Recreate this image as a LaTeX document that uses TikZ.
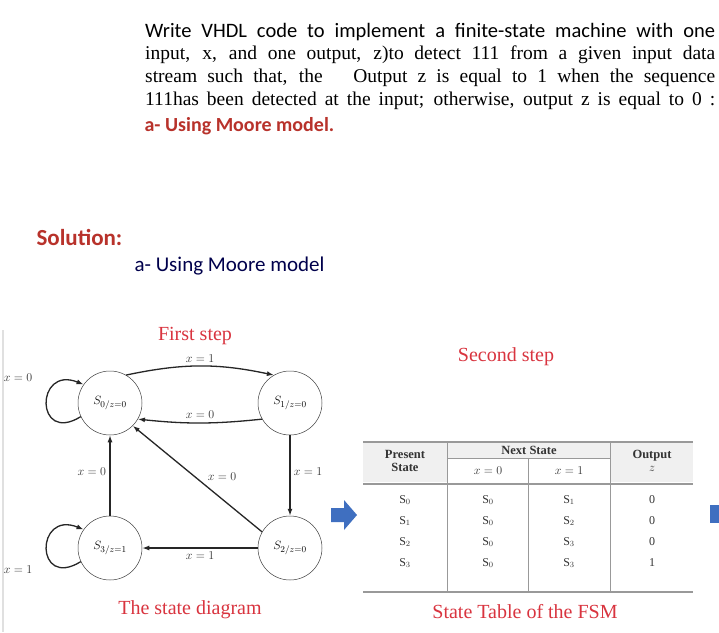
\documentclass[tikz,border=0pt]{standalone}
\usepackage{fontspec}
\setmainfont{Liberation Serif}
\newfontfamily\carfont{Carlito}
\usetikzlibrary{arrows.meta}
\definecolor{redt}{HTML}{D9343F}
\definecolor{solred}{HTML}{B8322B}
\definecolor{blu}{HTML}{3F6FC0}
\begin{document}
\begin{tikzpicture}[x=1pt,y=-1pt,
 st/.style={circle,draw=black!75,line width=0.5pt,minimum size=64pt,inner sep=0pt,font=\fontsize{13}{14}\selectfont},
 lab/.style={font=\fontsize{12}{13}\selectfont,text=black!80},
 tr/.style={-{Latex[length=7pt,width=5pt]},line width=1.3pt,black!85},
 redl/.style={text=redt,font=\fontsize{20}{22}\selectfont},
 tl/.style={line width=1pt,black!40},
 ln/.style={anchor=west,inner sep=0pt,font=\fontsize{19.5}{23}\selectfont}]
\useasboundingbox (0,0) rectangle (719,632);
\fill[white] (0,0) rectangle (719,632);
\draw[black!12,line width=2pt] (3,330) -- (3,632);
% problem text
\node[ln,font=\carfont\fontsize{20.5}{23}\selectfont] (t1) at (145,32) {\makebox[570pt][s]{Write VHDL code to implement a finite-state machine with one}};
\node[ln] (t2) at (145,55) {\makebox[570pt][s]{input, x, and one output, z)to detect 111 from a given input data}};
\node[ln] (t3) at (145,78) {\makebox[570pt][s]{stream such that, the\ \ \ Output z is equal to 1 when the sequence}};
\node[ln] (t4) at (145,101) {\makebox[570pt][s]{111has been detected at the input; otherwise, output z is equal to 0 :}};
\node[anchor=west,text=solred,font=\carfont\fontsize{20}{22}\selectfont\bfseries] (ta) at (141,126) {a- Using Moore model.};
\node[anchor=west,text=solred,font=\carfont\fontsize{23}{25}\selectfont\bfseries] (sol) at (33,237) {Solution:};
\node[anchor=west,text=black!70!blue,font=\carfont\fontsize{21}{23}\selectfont] (am) at (131,266) {a- Using Moore model};
\node[redl] (fs) at (195,336) {First step};
\node[redl] (ss) at (506,357) {Second step};
\node[redl] (sd) at (190,610) {The state diagram};
\node[redl] (tf) at (525,612) {State Table of the FSM};
% states
\node[st] (s0) at (110,403) {$S_{0/z=0}$};
\node[st] (s1) at (290,403) {$S_{1/z=0}$};
\node[st] (s2) at (290,548) {$S_{2/z=0}$};
\node[st] (s3) at (110,548) {$S_{3/z=1}$};
\draw[tr] (s0.60) to[bend left=12] node[lab,above] {$x=1$} (s1.120);
\draw[tr] (s1.210) to[bend left=6] node[lab,above] {$x=0$} (s0.330);
\draw[tr] (s1.south) -- node[lab,right,pos=0.45] {$x=1$} (s2.north);
\draw[tr] (s2.west) -- node[lab,below] {$x=1$} (s3.east);
\draw[tr] (s3.north) -- node[lab,left,pos=0.55] {$x=0$} (s0.south);
\draw[tr] (s2.150) -- node[lab,above right,pos=0.45] {$x=0$} (s0.315);
\draw[tr] (s0.205) .. controls (35,445) and (35,365) .. (s0.145);
\draw[tr] (s3.205) .. controls (35,590) and (35,510) .. (s3.145);
\node[lab] (l0) at (18,378) {$x=0$};
\node[lab] (l3) at (18,570) {$x=1$};
% blue arrows
\fill[blu] (331,508) -- (344,508) -- (344,500) -- (357,515) -- (344,530) -- (344,522) -- (331,522) -- cycle;
\fill[blu] (710,505) rectangle (719,523);
% table
\fill[black!6] (363,442) rectangle (693,482);
\fill[white] (447,458) rectangle (610,482);
\draw[tl,line width=1.5pt] (363,442) -- (693,442);
\draw[tl] (447,458) -- (610,458);
\draw[tl,line width=1.5pt] (363,484) -- (693,484);
\draw[tl,line width=1.5pt] (363,592) -- (693,592);
\draw[tl] (447,442) -- (447,592);
\draw[tl] (610,442) -- (610,592);
\draw[tl] (528,458) -- (528,592);
\begin{scope}[every node/.style={font=\fontsize{12}{13}\selectfont,text=black!80}]
\node[font=\fontsize{12.5}{13}\selectfont\bfseries,align=center,text=black!80] (h1) at (405,461) {Present\\State};
\node[font=\fontsize{12.5}{13}\selectfont\bfseries,text=black!80] (h2) at (529,450) {Next State};
\node[font=\fontsize{12.5}{13}\selectfont\bfseries,align=center,text=black!80] (h3) at (652,461) {Output\\$z$};
\node (h4) at (488,471) {$x=0$};
\node (h5) at (569,471) {$x=1$};
\foreach \y/\p/\a/\b/\o in {500/0/0/1/0,521/1/0/2/0,542/2/0/3/0,563/3/0/3/1}{
 \node at (405,\y) {S$_\p$};
 \node at (488,\y) {S$_\a$};
 \node at (569,\y) {S$_\b$};
 \node at (652,\y) {\o};}
\end{scope}
\end{tikzpicture}
\end{document}
